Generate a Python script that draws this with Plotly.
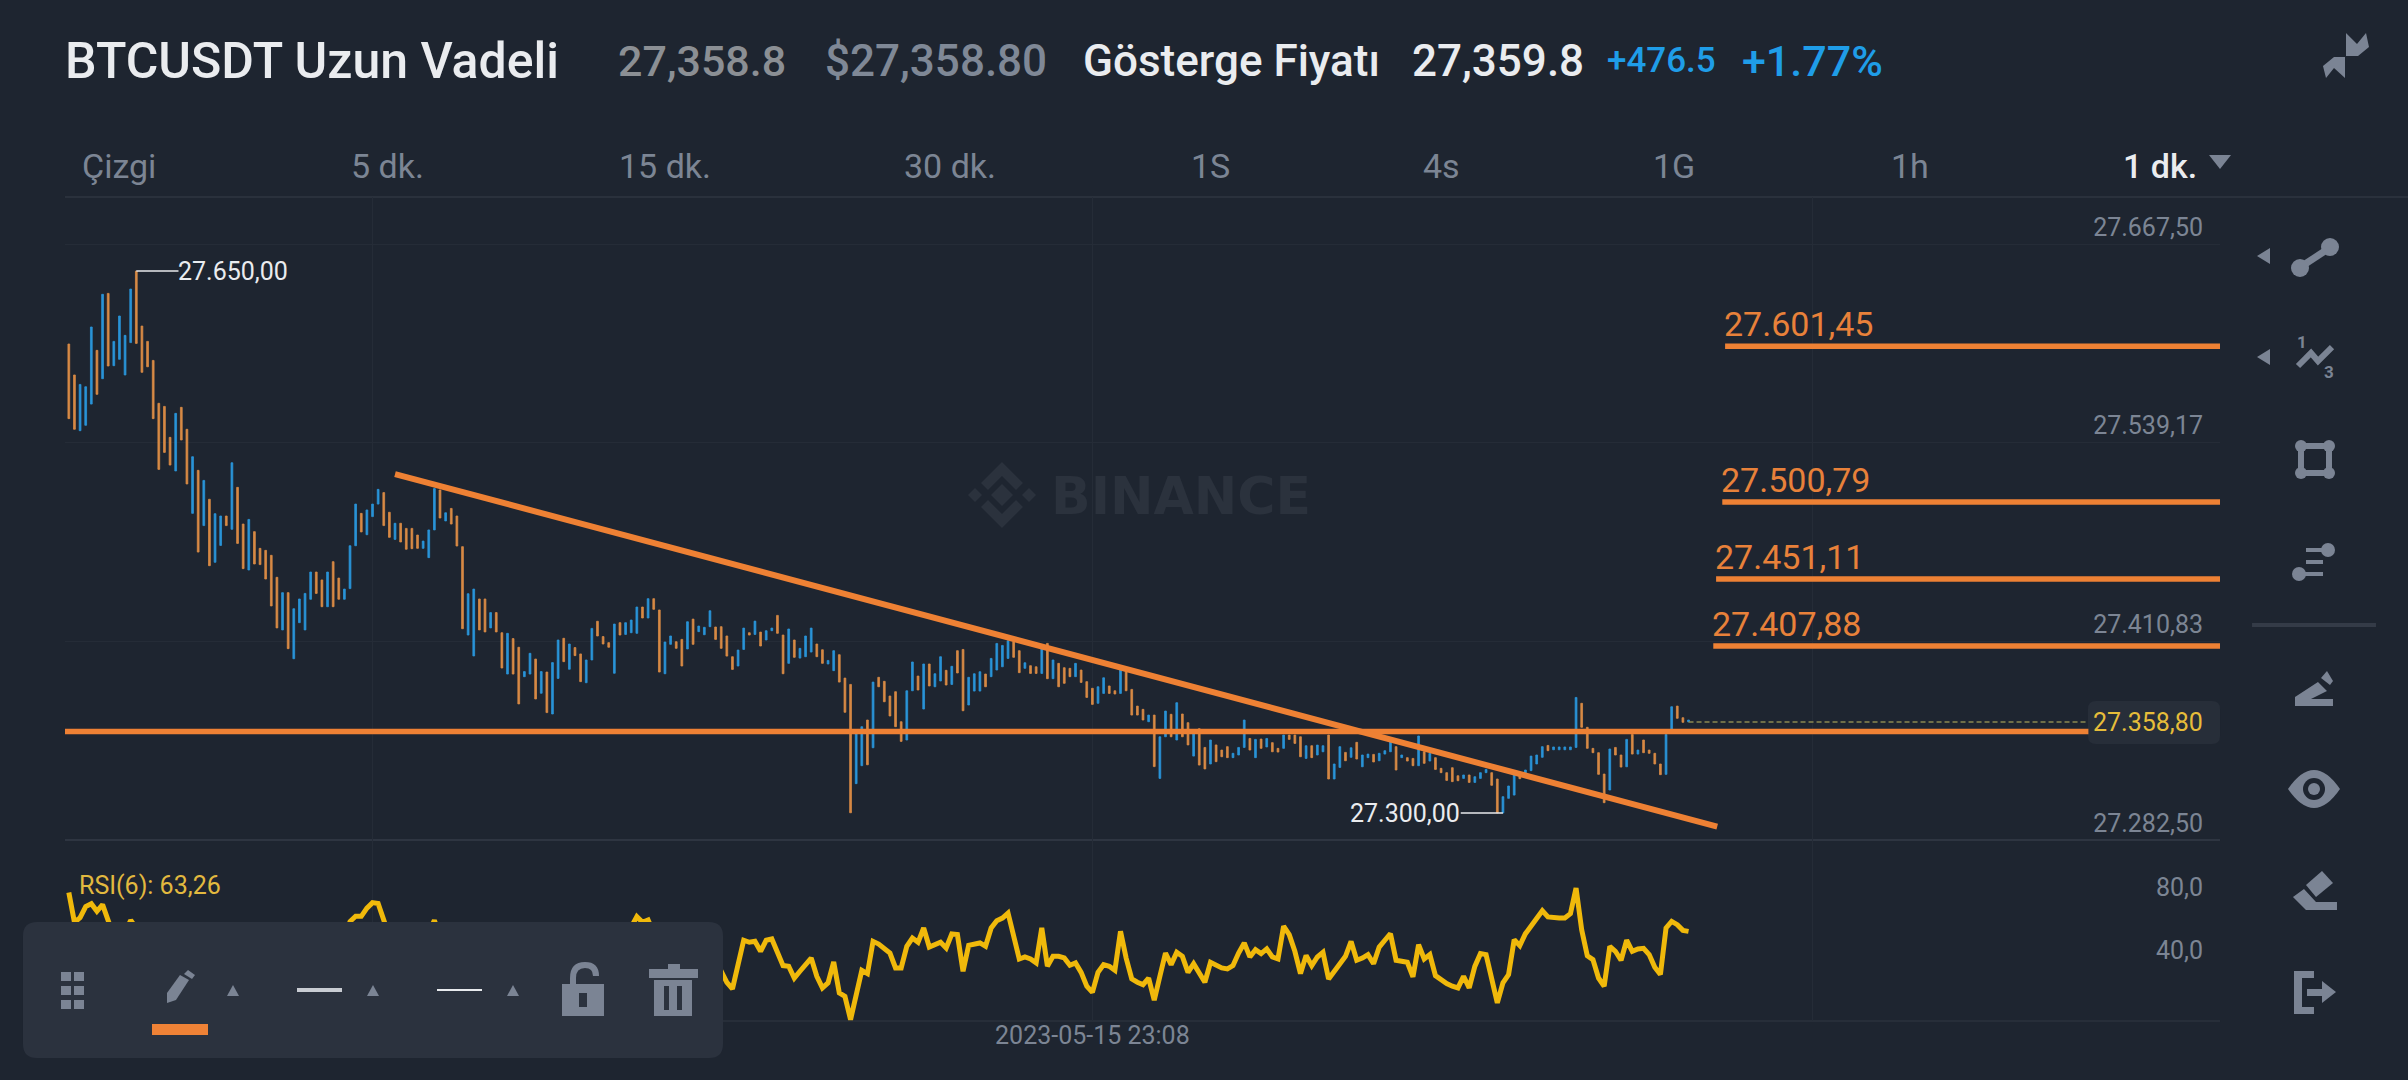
import plotly.graph_objects as go

W = 2408
H = 1080

# one letter per bar, B = blue (up), O = orange (down)
bar_sides = (
    "OOBBBOBOBB" "BBOOOOOOOB" "OOBOBOBBOB" "OOBOOOOOBO" "BBBBOOBOOB" "BBOBBBOOBO"
    "OOOBBBOBOO" "OBBOOBOOBO" "OBBOBOBBOB" "OOBBOOOBOB" "BBOBOOBBOO" "BOBBBOOOOB"
    "BOBOBBOOBO" "BBBOOBBOOO" "BBOBOOOOOB" "BOBOBBOBOO" "BBBOBBBBOO" "BOOBOBOOOB"
    "OOOBBOOBOO" "OOBOBBOBOO" "BOOBOOOBBB" "OBOBOOBOOO" "BOBBOBBOBO" "BBOBBBOBOO"
    "BOBOOOOOBO" "BBBOOBBBOB" "BBBOBBBBBO" "OOOOBOOBOB" "OOOOBBOOB"
)

bar_high = [
    27602.9, 27582.9, 27576.8, 27575.3, 27613.9, 27598.8, 27635.0, 27635.6, 27604.6, 27621.0,
    27608.5, 27638.4, 27650.0, 27614.5, 27604.6, 27592.3, 27564.6, 27562.6, 27542.6, 27558.1,
    27562.0, 27547.8, 27530.1, 27521.3, 27514.8, 27502.6, 27493.3, 27491.8, 27491.8, 27526.2,
    27510.3, 27486.6, 27489.6, 27481.7, 27470.9, 27469.6, 27466.4, 27452.2, 27442.3, 27442.3,
    27431.9, 27438.2, 27441.8, 27455.6, 27455.6, 27450.5, 27455.6, 27462.3, 27451.7, 27444.6,
    27472.6, 27499.5, 27493.5, 27495.7, 27499.5, 27509.0, 27506.9, 27494.2, 27487.1, 27487.1,
    27483.8, 27483.8, 27479.5, 27475.6, 27482.8, 27509.5, 27508.6, 27493.9, 27496.7, 27491.8,
    27472.0, 27441.6, 27444.6, 27438.2, 27438.2, 27429.4, 27429.4, 27416.4, 27416.0, 27412.6,
    27407.0, 27391.3, 27403.1, 27399.4, 27391.3, 27391.0, 27397.1, 27411.7, 27412.8, 27409.1,
    27406.8, 27402.7, 27398.8, 27419.2, 27423.8, 27413.9, 27410.0, 27422.0, 27422.9, 27422.9,
    27424.6, 27433.0, 27433.0, 27438.4, 27438.4, 27431.1, 27410.4, 27414.3, 27410.6, 27412.1,
    27423.5, 27425.2, 27420.7, 27419.9, 27430.6, 27420.1, 27420.3, 27414.3, 27400.9, 27405.2,
    27419.4, 27416.4, 27423.9, 27416.8, 27417.7, 27419.4, 27427.6, 27414.9, 27418.8, 27411.7,
    27406.3, 27414.3, 27419.4, 27409.1, 27405.4, 27398.5, 27404.8, 27402.2, 27387.1, 27383.0,
    27351.4, 27355.7, 27360.0, 27384.5, 27387.6, 27385.0, 27375.5, 27378.3, 27358.9, 27378.9,
    27397.5, 27388.4, 27396.2, 27396.2, 27389.9, 27400.9, 27392.1, 27394.7, 27404.8, 27405.6,
    27387.6, 27389.9, 27391.2, 27389.7, 27399.8, 27409.5, 27408.2, 27411.2, 27410.8, 27404.8,
    27397.0, 27395.1, 27394.4, 27406.3, 27409.5, 27398.8, 27396.6, 27393.8, 27393.4, 27396.6,
    27392.3, 27384.8, 27380.5, 27381.5, 27387.3, 27382.0, 27378.9, 27392.3, 27392.3, 27379.8,
    27369.0, 27366.9, 27363.2, 27363.2, 27349.2, 27365.8, 27363.7, 27371.2, 27363.9, 27358.3,
    27351.4, 27354.4, 27342.3, 27347.1, 27343.9, 27340.6, 27342.8, 27338.5, 27342.3, 27360.0,
    27348.1, 27347.5, 27347.7, 27348.1, 27345.4, 27341.7, 27350.3, 27350.3, 27350.3, 27349.2,
    27343.4, 27343.4, 27343.8, 27343.4, 27350.3, 27331.6, 27342.8, 27339.1, 27342.1, 27345.6,
    27337.4, 27338.0, 27337.8, 27338.5, 27340.2, 27347.1, 27342.8, 27337.4, 27335.7, 27335.2,
    27349.7, 27339.5, 27338.5, 27335.7, 27328.8, 27326.0, 27329.2, 27324.0, 27324.5, 27324.5,
    27323.4, 27326.0, 27328.1, 27326.0, 27321.9, 27310.5, 27317.4, 27324.5, 27324.5, 27327.7,
    27336.7, 27337.4, 27342.8, 27343.6, 27342.6, 27342.6, 27342.6, 27342.6, 27374.6, 27370.8,
    27355.3, 27341.7, 27338.9, 27325.1, 27341.3, 27342.3, 27337.4, 27347.5, 27350.7, 27340.6,
    27347.1, 27340.6, 27338.5, 27331.6, 27350.7, 27368.6, 27369.0, 27361.5, 27360.0,
]

bar_low = [
    27554.7, 27547.8, 27546.9, 27550.4, 27564.1, 27570.4, 27580.5, 27588.7, 27588.9, 27593.0,
    27582.9, 27603.8, 27603.3, 27584.6, 27588.2, 27554.7, 27521.9, 27532.9, 27524.7, 27520.9,
    27540.9, 27512.5, 27493.5, 27468.5, 27485.6, 27459.7, 27461.9, 27472.8, 27485.6, 27483.2,
    27474.1, 27457.8, 27456.9, 27460.8, 27460.4, 27451.1, 27433.7, 27419.5, 27418.2, 27406.1,
    27399.6, 27422.9, 27418.2, 27438.0, 27441.8, 27433.2, 27433.2, 27433.2, 27438.0, 27438.0,
    27444.9, 27472.6, 27481.5, 27479.7, 27491.4, 27499.5, 27485.6, 27478.0, 27476.7, 27475.0,
    27470.3, 27470.7, 27470.9, 27470.9, 27464.9, 27482.8, 27490.5, 27488.6, 27486.6, 27472.4,
    27419.0, 27414.9, 27401.4, 27418.2, 27416.9, 27419.5, 27416.9, 27393.6, 27389.7, 27389.7,
    27370.4, 27388.0, 27389.7, 27373.6, 27377.3, 27364.8, 27363.9, 27386.9, 27397.7, 27392.8,
    27401.6, 27384.8, 27384.1, 27398.8, 27414.3, 27409.1, 27407.0, 27390.2, 27414.9, 27415.3,
    27416.4, 27416.0, 27425.9, 27425.9, 27431.5, 27391.0, 27389.9, 27408.9, 27406.3, 27394.9,
    27405.9, 27408.9, 27417.1, 27415.1, 27420.3, 27412.1, 27406.3, 27401.3, 27392.7, 27394.9,
    27405.6, 27414.9, 27415.3, 27407.8, 27411.7, 27417.7, 27416.0, 27389.9, 27396.6, 27400.5,
    27400.0, 27400.9, 27403.9, 27400.9, 27396.6, 27396.2, 27391.9, 27384.5, 27365.0, 27300.1,
    27318.9, 27330.5, 27331.1, 27342.1, 27381.5, 27371.8, 27362.6, 27355.7, 27346.2, 27347.1,
    27378.9, 27379.4, 27367.1, 27382.0, 27381.5, 27385.2, 27382.6, 27383.0, 27390.4, 27366.0,
    27369.7, 27378.7, 27378.7, 27381.5, 27388.0, 27392.3, 27394.4, 27399.8, 27400.5, 27390.6,
    27393.4, 27390.1, 27390.1, 27390.1, 27386.7, 27386.7, 27381.5, 27383.7, 27388.0, 27388.0,
    27384.3, 27374.6, 27370.1, 27370.8, 27377.2, 27377.2, 27376.8, 27377.2, 27378.9, 27363.2,
    27363.2, 27360.0, 27358.9, 27329.9, 27322.3, 27349.2, 27349.2, 27347.1, 27349.2, 27343.9,
    27336.7, 27330.9, 27328.4, 27331.6, 27333.1, 27336.3, 27335.7, 27335.7, 27337.4, 27342.3,
    27340.6, 27335.7, 27341.7, 27342.6, 27339.5, 27339.3, 27341.7, 27347.5, 27344.9, 27336.3,
    27335.2, 27335.7, 27337.4, 27339.5, 27321.9, 27321.9, 27329.4, 27333.7, 27335.9, 27334.8,
    27329.8, 27335.7, 27332.9, 27333.7, 27338.0, 27339.5, 27327.7, 27335.7, 27333.5, 27330.5,
    27330.5, 27332.0, 27333.5, 27328.1, 27326.0, 27321.0, 27320.2, 27320.8, 27322.3, 27319.7,
    27319.7, 27322.3, 27326.0, 27317.8, 27300.0, 27300.0, 27309.4, 27311.5, 27322.1, 27324.5,
    27327.3, 27331.6, 27335.9, 27340.2, 27340.8, 27340.8, 27340.8, 27340.8, 27342.3, 27355.3,
    27341.7, 27338.9, 27324.9, 27306.6, 27314.8, 27337.4, 27329.6, 27329.8, 27338.0, 27338.0,
    27338.9, 27338.5, 27331.6, 27324.7, 27324.9, 27354.0, 27361.1, 27358.5, 27358.8,
]

# values under the drawing toolbar are a rough guess, the rest is read off the line
rsi_values = [
    87.9, 69, 72, 79, 80.8, 76, 80.2, 69, 60, 55,
    62, 70.3, 65, 48, 40, 34, 30, 35, 33, 48,
    42, 34, 30, 35, 35, 30, 38, 42, 38, 45,
    60, 45, 40, 45, 35, 30, 28, 25, 30, 28,
    35, 32, 38, 50, 55, 50, 58, 52, 48, 60,
    69.5, 72.9, 72.8, 78, 81.5, 81, 69.6, 60, 55, 50,
    52, 55, 50, 58, 62, 70.3, 60, 52, 48, 42,
    30, 38, 34, 42, 38, 40, 36, 30, 28, 25,
    26, 38, 32, 30, 36, 33, 30, 40, 55, 50,
    52, 46, 44, 42, 58, 62, 56, 50, 60, 56,
    66, 72.6, 69, 70.5, 62, 45, 48, 52, 48, 50,
    56, 52, 55, 54, 52, 45,
    38.9, 30.9, 26.7, 43.6, 57.6, 56.3, 56.9, 50.6, 57.6, 58.4,
    49.5, 41.5, 41.1, 33.6, 37.9, 42.1, 46.3, 34.7, 27.3, 30.5,
    43.8, 24.1, 22.0, 7.2, 23.1, 38.5, 36.4, 56.9, 55.2, 52.7,
    49.5, 40.0, 40.0, 53.7, 59.0, 56.3, 65.4, 53.3, 55.2, 56.3,
    52.7, 61.6, 61.2, 37.9, 54.4, 55.4, 55.9, 53.8, 65.4, 70.0,
    71.7, 74.9, 60.1, 45.7, 47.0, 45.7, 43.2, 65.4, 41.1, 47.4,
    47.4, 46.4, 41.7, 43.2, 37.2, 28.4, 24.5, 37.2, 42.1, 41.1,
    38.5, 63.3, 46.3, 33.0, 30.9, 29.4, 33.6, 19.5, 34.7, 49.5,
    42.1, 49.9, 47.4, 37.2, 42.7, 36.8, 30.9, 43.6, 41.5, 40.0,
    39.4, 41.5, 49.5, 55.9, 47.0, 51.6, 49.1, 52.1, 47.0, 45.7,
    66.5, 61.2, 50.6, 36.4, 48.0, 41.5, 47.0, 49.9, 33.0, 37.9,
    42.7, 47.4, 56.9, 44.9, 46.3, 48.5, 42.7, 53.3, 57.6, 61.8,
    44.9, 44.2, 43.6, 34.3, 54.8, 45.7, 48.5, 35.1, 32.2, 30.1,
    28.4, 27.3, 34.7, 27.3, 41.0, 49.1, 48.5, 32.6, 17.8, 30.5,
    35.8, 58.0, 54.2, 61.8, 66.9, 71.7, 76.4, 72.4, 71.7, 71.7,
    71.7, 74.5, 90.8, 64.3, 47.8, 45.3, 33.6, 28.4, 53.7, 50.6,
    44.9, 57.6, 50.6, 52.1, 52.5, 48.5, 40.4, 35.8, 65.4, 69.6,
    67.5, 63.9, 63.26,
]

price_ticks = [27667.50, 27539.17, 27410.83, 27282.50]
price_tick_labels = ["27.667,50", "27.539,17", "27.410,83", "27.282,50"]
rsi_ticks = [80, 40]
rsi_tick_labels = ["80,0", "40,0"]
time_ticks = [54, 182, 310]
time_tick_labels = ["", "2023-05-15 23:08", ""]

level_prices = [27601.45, 27500.79, 27451.11, 27407.88]
level_labels = ["27.601,45", "27.500,79", "27.451,11", "27.407,88"]
level_starts = [294.5, 294, 292.9, 292.4]

support_price = 27352.6
support_x = [-0.68, 359.1]
trend_x = [58, 293.1]
trend_y = [27518.9, 27291.1]
last_price = 27358.8
last_x = [288, 359.1]

BG = "#1e2530"
BLUE = "#2a94d8"
ORANGE = "#d88a45"
LINE = "#ee8134"
YELLOW = "#f0b90b"
GREY = "#7c8594"
ICON = "#7b8494"
TEXT_FONT = "Roboto"

bar_index = list(range(len(bar_high)))
bar_open = [l if s == "B" else h for s, l, h in zip(bar_sides, bar_low, bar_high)]
bar_close = [h if s == "B" else l for s, l, h in zip(bar_sides, bar_low, bar_high)]


def to_x(px):
    return px / W


def to_y(px):
    return 1 - px / H


def pixel_path(path):
    # "M 10 20 L 30 40" in screen pixels -> same path in paper coordinates
    out = []
    is_x = True
    for tok in path.split():
        if tok.isalpha():
            out.append(tok)
            is_x = True
        else:
            out.append(str(round(to_x(float(tok)) if is_x else to_y(float(tok)), 5)))
            is_x = not is_x
    return " ".join(out)


def fill_shape(path, color=ICON, layer="above"):
    return dict(type="path", xref="paper", yref="paper", path=pixel_path(path),
                fillcolor=color, line=dict(width=0), layer=layer)


def stroke_shape(path, color=ICON, width=5, layer="above"):
    return dict(type="path", xref="paper", yref="paper", path=pixel_path(path),
                line=dict(color=color, width=width), layer=layer)


def dot(x, y, r, color=ICON):
    return dict(type="circle", xref="paper", yref="paper", x0=to_x(x - r), x1=to_x(x + r),
                y0=to_y(y + r), y1=to_y(y - r), fillcolor=color, line=dict(width=0))


def label(x, y, text, size, color, anchor="left", weight=400, family=TEXT_FONT):
    return dict(xref="paper", yref="paper", x=to_x(x), y=to_y(y), text=text, showarrow=False,
                xanchor=anchor, yanchor="middle",
                font=dict(family=family, size=size, color=color, weight=weight))


fig = go.Figure()

fig.add_trace(go.Candlestick(
    x=bar_index, open=bar_open, high=bar_high, low=bar_low, close=bar_close,
    increasing=dict(line=dict(color=BLUE, width=0.8), fillcolor=BLUE),
    decreasing=dict(line=dict(color=ORANGE, width=0.8), fillcolor=ORANGE),
    whiskerwidth=0, showlegend=False, xaxis="x", yaxis="y",
))

# hand drawn lines on the chart
for price, start in zip(level_prices, level_starts):
    fig.add_trace(go.Scatter(x=[start, 382.5], y=[price, price], mode="lines",
                             line=dict(color=LINE, width=5.5), showlegend=False))
fig.add_trace(go.Scatter(x=support_x, y=[support_price, support_price], mode="lines",
                         line=dict(color=LINE, width=5.5), showlegend=False))
fig.add_trace(go.Scatter(x=trend_x, y=trend_y, mode="lines",
                         line=dict(color=LINE, width=6), showlegend=False))
fig.add_trace(go.Scatter(x=last_x, y=[last_price, last_price], mode="lines",
                         line=dict(color="#8b8850", width=1.5, dash="5px,3px"), showlegend=False))
# high / low markers
fig.add_trace(go.Scatter(x=[12, 19.5], y=[27650, 27650], mode="lines",
                         line=dict(color="#e8eaed", width=1.5), showlegend=False))
fig.add_trace(go.Scatter(x=[247.5, 255], y=[27300, 27300], mode="lines",
                         line=dict(color="#e8eaed", width=1.5), showlegend=False))

fig.add_trace(go.Scatter(x=bar_index, y=rsi_values, mode="lines", xaxis="x2", yaxis="y2",
                         line=dict(color=YELLOW, width=5), showlegend=False))

annotations = [
    label(63, 61, "BTCUSDT Uzun Vadeli", 50, "#eaecef", weight=500),
    label(616, 61, "27,358.8", 43, "#8b8f94", weight=500),
    label(823, 61, "$27,358.80", 44, "#7f8896", weight=500),
    label(1081, 61, "Gösterge Fiyatı", 44, "#eaecef", weight=500),
    label(1410, 61, "27,359.8", 44, "#eaecef", weight=500),
    label(1605, 61, "+476.5", 35, "#1f9de8", weight=500),
    label(1740, 61, "+1.77%", 43, "#1f9de8", weight=500),
    label(80, 166, "Çizgi", 34, GREY),
    label(349, 166, "5 dk.", 34, GREY),
    label(617, 166, "15 dk.", 34, GREY),
    label(902, 166, "30 dk.", 34, GREY),
    label(1189, 166, "1S", 34, GREY),
    label(1421, 166, "4s", 34, GREY),
    label(1651, 166, "1G", 34, GREY),
    label(1889, 166, "1h", 34, GREY),
    label(2121, 166, "1 dk.", 34, "#eaecef", weight=500),
    label(176, 271, "27.650,00", 25, "#eaecef"),
    label(1462, 813, "27.300,00", 25, "#eaecef", anchor="right"),
    label(2205, 722, "27.358,80", 25, "#e6bd3a", anchor="right"),
    label(77, 885, "RSI(6): 63,26", 25, "#e2b93f"),
    label(1049, 496, "BINANCE", 52, "#2b323d", weight=700, family="DejaVu Sans"),
    label(2295, 342, "1", 17, ICON, weight=700),
    label(2322, 372, "3", 17, ICON, weight=700),
]
for price, start, text in zip(level_prices, level_starts, level_labels):
    annotations.append(dict(x=start, y=price, xref="x", yref="y", text=text, showarrow=False,
                            xanchor="left", yanchor="bottom", yshift=0, xshift=-3,
                            font=dict(family=TEXT_FONT, size=34, color="#e8813a")))

shapes = [
    # watermark logo
    fill_shape("M 1002 484 L 1013 495 L 1002 506 L 991 495 Z", "#2b323d", "below"),
    fill_shape("M 968 495 L 975 488 L 982 495 L 975 502 Z", "#2b323d", "below"),
    fill_shape("M 1022 495 L 1029 488 L 1036 495 L 1029 502 Z", "#2b323d", "below"),
    fill_shape("M 1002 462 L 1023 483 L 1016 490 L 1002 476 L 988 490 L 981 483 Z", "#2b323d", "below"),
    fill_shape("M 1002 528 L 1023 507 L 1016 500 L 1002 514 L 988 500 L 981 507 Z", "#2b323d", "below"),
    # frame lines
    stroke_shape("M 65 197 L 2408 197", "#2a313c", 2, "below"),
    stroke_shape("M 65 840 L 2220 840", "#2e3541", 2, "below"),
    stroke_shape("M 65 1021 L 2220 1021", "#272e39", 2, "below"),
    # last price box
    fill_shape("M 2096 701 L 2212 701 Q 2220 701 2220 709 L 2220 736 Q 2220 744 2212 744 L 2096 744 "
               "Q 2088 744 2088 736 L 2088 709 Q 2088 701 2096 701 Z", "#272e39", "below"),
    # collapse arrows
    fill_shape("M 2346 56 L 2346 33 L 2357 44 L 2366 33 L 2369 47 L 2358 56 Z"),
    fill_shape("M 2345 57 L 2345 78 L 2334 68 L 2326 78 L 2323 66 L 2334 57 Z"),
    # interval menu arrow
    fill_shape("M 2209 155 L 2231 155 L 2220 169 Z"),
    # right toolbar
    fill_shape("M 2257 256 L 2270 248 L 2270 264 Z"),
    fill_shape("M 2257 357 L 2270 349 L 2270 365 Z"),
    stroke_shape("M 2299 268 L 2331 247", ICON, 7),
    dot(2300, 268, 9), dot(2330, 247, 9),
    stroke_shape("M 2298 366 L 2311 353 L 2318 361 L 2332 347", ICON, 6),
    stroke_shape("M 2301 446 L 2329 446 L 2329 473 L 2301 473 Z", ICON, 6),
    dot(2301, 446, 6), dot(2329, 446, 6), dot(2301, 473, 6), dot(2329, 473, 6),
    dot(2328, 550, 7), dot(2299, 574, 7),
    stroke_shape("M 2306 550 L 2326 550", ICON, 4),
    stroke_shape("M 2306 562 L 2323 562", ICON, 4),
    stroke_shape("M 2298 574 L 2323 574", ICON, 4),
    stroke_shape("M 2252 625 L 2376 625", "#343b47", 4),
    fill_shape("M 2295 706 L 2295 697 L 2318 682 L 2327 691 L 2311 699 L 2333 699 L 2333 706 Z"),
    fill_shape("M 2321 678 L 2327 671 L 2333 681 L 2330 685 Z"),
    fill_shape("M 2288 789 Q 2314 751 2340 789 Q 2314 827 2288 789 Z"),
    dot(2314, 789, 11, BG), dot(2314, 789, 6),
    fill_shape("M 2322 871 L 2333 883 L 2316 897 L 2306 885 Z"),
    fill_shape("M 2293 897 L 2304 889 L 2316 902 L 2337 902 L 2337 910 L 2306 910 Z"),
    fill_shape("M 2294 971 L 2314 971 L 2314 978 L 2302 978 L 2302 1007 L 2314 1007 L 2314 1014 L 2294 1014 Z"),
    fill_shape("M 2307 989 L 2322 989 L 2322 981 L 2336 992 L 2322 1003 L 2322 996 L 2307 996 Z"),
    # drawing toolbar
    fill_shape("M 37 922 L 709 922 Q 723 922 723 936 L 723 1044 Q 723 1058 709 1058 L 37 1058 "
               "Q 23 1058 23 1044 L 23 936 Q 23 922 37 922 Z", "#2b323e"),
    fill_shape("M 167 1003 L 167 993 L 180 975 L 189 980 L 176 1000 Z"),
    fill_shape("M 184 974 L 188 970 L 195 975 L 192 979 Z"),
    fill_shape("M 233 985 L 239 996 L 227 996 Z"),
    fill_shape("M 373 985 L 379 996 L 367 996 Z"),
    fill_shape("M 513 985 L 519 996 L 507 996 Z"),
    fill_shape("M 152 1024 L 208 1024 L 208 1035 L 152 1035 Z", "#ef8236"),
    stroke_shape("M 297 990 L 342 990", "#c8ccd2", 4),
    stroke_shape("M 437 990 L 482 990", "#e8eaed", 2),
    # open lock
    stroke_shape("M 573 984 L 573 978 Q 573 965 585 965 Q 596 965 596 976", ICON, 6),
    fill_shape("M 562 984 L 604 984 L 604 1016 L 562 1016 Z"),
    fill_shape("M 579 993 L 587 993 L 587 1007 L 579 1007 Z", "#2b323e"),
    # trash can
    fill_shape("M 668 964 L 680 964 L 680 969 L 698 969 L 698 978 L 649 978 L 649 969 L 668 969 Z"),
    fill_shape("M 654 980 L 692 980 L 692 1016 L 654 1016 Z"),
    fill_shape("M 664 986 L 669 986 L 669 1010 L 664 1010 Z", "#2b323e"),
    fill_shape("M 677 986 L 682 986 L 682 1010 L 677 1010 Z", "#2b323e"),
]
# grip dots of the toolbar
for gx in [61, 74]:
    for gy in [972, 986, 1000]:
        shapes.append(fill_shape(f"M {gx} {gy} L {gx + 10} {gy} L {gx + 10} {gy + 9} L {gx} {gy + 9} Z"))

axis_x = dict(
    domain=[65 / W, 2220 / W], range=[-0.68, 382.5], tickmode="array", tickvals=time_ticks,
    showgrid=True, gridcolor="#252c37", gridwidth=1, zeroline=False, showline=False, ticks="",
)

fig.update_layout(
    width=W, height=H,
    margin=dict(l=0, r=0, t=0, b=0),
    paper_bgcolor=BG, plot_bgcolor=BG,
    showlegend=False, boxgap=0.55, hovermode=False,
    xaxis=dict(**axis_x, anchor="y", showticklabels=False, rangeslider=dict(visible=False)),
    xaxis2=dict(**axis_x, anchor="y2", matches="x", ticktext=time_tick_labels,
                ticklabelstandoff=-3,
                tickfont=dict(family=TEXT_FONT, size=25, color=GREY)),
    yaxis=dict(
        domain=[1 - 840 / H, 1 - 197 / H], range=[27282.5, 27697.87], side="right", anchor="x",
        tickmode="array", tickvals=price_ticks, ticktext=price_tick_labels,
        ticklabelposition="inside", ticklabelshift=-17, ticklabelstandoff=14,
        tickfont=dict(family=TEXT_FONT, size=25, color=GREY),
        showgrid=True, gridcolor="#252c37", zeroline=False, showline=False, ticks="",
    ),
    yaxis2=dict(
        domain=[1 - 1021 / H, 1 - 840 / H], range=[6.3, 121.3], side="right", anchor="x2",
        tickmode="array", tickvals=rsi_ticks, ticktext=rsi_tick_labels,
        ticklabelposition="inside", ticklabelshift=-18, ticklabelstandoff=14,
        tickfont=dict(family=TEXT_FONT, size=25, color=GREY),
        showgrid=False, zeroline=False, showline=False, ticks="",
    ),
    annotations=annotations,
    shapes=shapes,
)

fig.write_html(
    "out.html",
    config={"displayModeBar": False},
    post_script="document.body.style.margin='0';document.body.style.background='#1e2530';",
)
